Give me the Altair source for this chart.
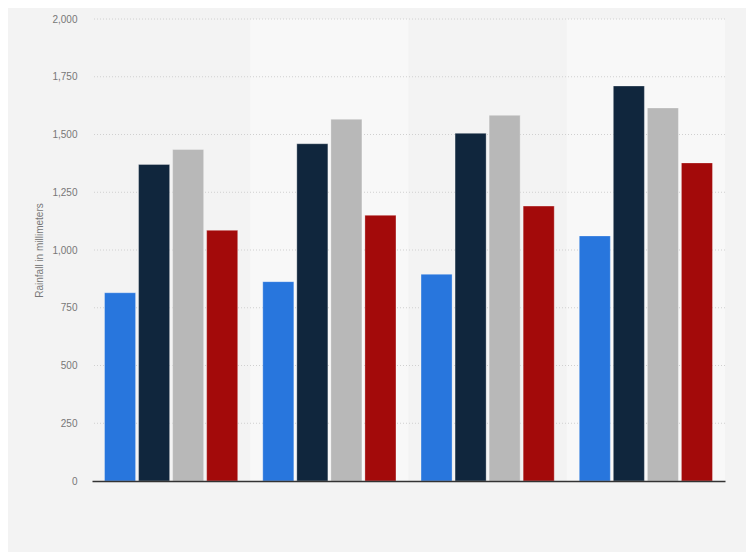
import altair as alt
import pandas as pd

groups = ["Group 1", "Group 2", "Group 3", "Group 4"]
series = ["Series A", "Series B", "Series C", "Series D"]
series_a = [815, 863, 895, 1061]
series_b = [1370, 1460, 1505, 1710]
series_c = [1435, 1566, 1583, 1615]
series_d = [1085, 1150, 1190, 1377]
colors = ["#2876dd", "#10263d", "#b8b8b8", "#a30a0a"]
y_ticks = [0, 250, 500, 750, 1000, 1250, 1500, 1750, 2000]
light_groups = ["Group 2", "Group 4"]

rows = []
for s, vals in zip(series, [series_a, series_b, series_c, series_d]):
    for g, v in zip(groups, vals):
        rows.append({"group": g, "series": s, "value": v})
df = pd.DataFrame(rows)
grid_df = pd.DataFrame({"tick": y_ticks[1:]})
band_df = pd.DataFrame({"group": light_groups})

font = "Liberation Sans"
x_scale = alt.Scale(domain=groups, paddingInner=0, paddingOuter=0)
y_scale = alt.Scale(domain=[0, 2000], nice=False)
x_axis = alt.Axis(labels=False, ticks=False, title=None, domainColor="#333333",
                  domainWidth=1.5, grid=False)
y_axis = alt.Axis(values=y_ticks, labelExpr="format(datum.value, ',')", grid=False,
                  domain=False, ticks=False,
                  labelColor="#777777", labelFont=font, labelFontSize=10,
                  labelPadding=15, title="Rainfall in millimeters",
                  titleColor="#777777", titleFont=font, titleFontSize=10,
                  titleFontWeight="normal", titleX=-48)

bands = alt.Chart(band_df).mark_rect(fill="#f8f8f8").encode(
    x=alt.X("group:N", scale=x_scale, axis=x_axis),
    y=alt.value(0),
    y2=alt.value(462),
)

grid = alt.Chart(grid_df).mark_rule(color="#d0d0d0", strokeDash=[1, 2], strokeWidth=1).encode(
    y=alt.Y("tick:Q", scale=y_scale, axis=y_axis)
)

bars = alt.Chart(df).mark_bar(stroke="#ffffff", strokeOpacity=0.3, strokeWidth=1).encode(
    x=alt.X("group:N", scale=x_scale, axis=x_axis),
    xOffset=alt.XOffset("series:N", sort=series,
                        scale=alt.Scale(paddingInner=0.088, paddingOuter=0.368)),
    y=alt.Y("value:Q", scale=y_scale, axis=y_axis),
    color=alt.Color("series:N", sort=series,
                    scale=alt.Scale(domain=series, range=colors), legend=None),
)

chart = alt.layer(bands, grid, bars).properties(
    width=633, height=462,
    padding={"left": 84, "top": 11, "right": 21, "bottom": 71},
    autosize=alt.AutoSizeParams(type="none"),
    background="#f3f3f3",
).configure_view(stroke=None)

chart.save("out.html", embed_options={"renderer": "svg", "actions": False})
